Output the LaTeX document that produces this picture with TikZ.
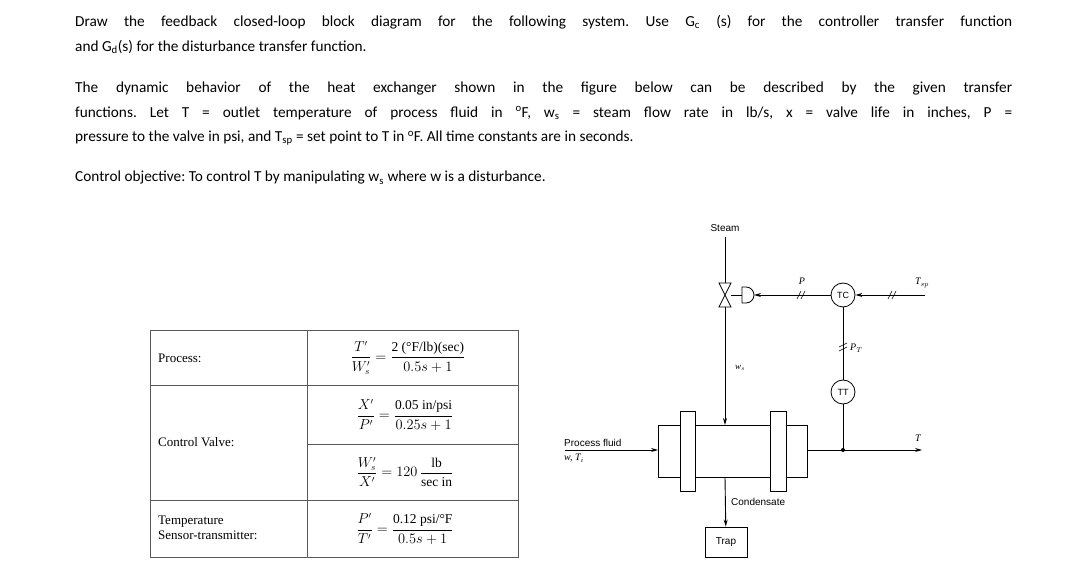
\documentclass[tikz,border=0pt]{standalone}
\usepackage{amsmath}
\usepackage{fontspec}
\setmainfont{Carlito}
\newfontfamily\tserif{Liberation Serif}
\newfontfamily\dsans{Liberation Sans}
\usetikzlibrary{arrows.meta}
\frenchspacing
\begin{document}
\begin{tikzpicture}[x=1pt,y=-1pt,
  txt/.style={anchor=west,inner sep=0pt,font=\fontsize{15.3}{17}\selectfont},
  tab/.style={anchor=west,inner sep=0pt,font=\tserif\fontsize{13}{15}\selectfont,align=left},
  eq/.style={inner sep=0pt,font=\tserif\fontsize{13.5}{15}\selectfont},
  dl/.style={inner sep=1pt,font=\dsans\fontsize{10}{12}\selectfont},
  pipe/.style={line width=0.9pt},
  flow/.style={pipe,-{Stealth[length=7pt,width=4pt]}},
  inst/.style={circle,draw,line width=0.8pt,minimum size=24pt,inner sep=0pt,font=\dsans\fontsize{9}{10}\selectfont}]
\useasboundingbox (0,0) rectangle (1080,585);
\fill[white] (0,0) rectangle (1080,585);
% text
\node[txt] (l1) at (75,22) {\makebox[937pt][s]{Draw the feedback closed-loop block diagram for the following system. Use G\textsubscript{c} (s) for the controller transfer function}};
\node[txt] (l2) at (75,47) {and G\textsubscript{d}(s) for the disturbance transfer function.};
\node[txt] (l3) at (75,89) {\makebox[937pt][s]{The dynamic behavior of the heat exchanger shown in the figure below can be described by the given transfer}};
\node[txt] (l4) at (75,113) {\makebox[937pt][s]{functions. Let T = outlet temperature of process fluid in \textsuperscript{o}F, w\textsubscript{s} = steam flow rate in lb/s, x = valve life in inches, P =}};
\node[txt] (l5) at (75,138) {pressure to the valve in psi, and T\textsubscript{sp} = set point to T in \textsuperscript{o}F. All time constants are in seconds.};
\node[txt] (l6) at (75,178) {Control objective: To control T by manipulating w\textsubscript{s} where w is a disturbance.};
% table
\draw[line width=0.9pt,gray!70!black] (150,330) rectangle (518,557);
\draw[line width=0.9pt,gray!70!black] (307,330) -- (307,557);
\draw[line width=0.9pt,gray!70!black] (150,385) -- (518,385) (307,444) -- (518,444) (150,500) -- (518,500);
\node[tab] (p) at (158,358) {Process:};
\node[tab] (cv) at (158,442) {Control Valve:};
\node[tab] (ts) at (158,528) {Temperature\\Sensor-transmitter:};
\node[eq] (e1) at (408,358) {$\dfrac{T'}{W_s'}=\dfrac{\text{2 (°F/lb)(sec)}}{0.5s+1}$};
\node[eq] (e2) at (405,415) {$\dfrac{X'}{P'}=\dfrac{\text{0.05 in/psi}}{0.25s+1}$};
\node[eq] (e3) at (405,472) {$\dfrac{W_s'}{X'}=120\,\dfrac{\text{lb}}{\text{sec in}}$};
\node[eq] (e4) at (405,529) {$\dfrac{P'}{T'}=\dfrac{\text{0.12 psi/°F}}{0.5s+1}$};
% heat exchanger
\node[dl] (steam) at (725,228) {Steam};
\draw[pipe] (725,237) -- (725,283);
\draw[line width=0.8pt] (719,283) -- (731,283) -- (719,307) -- (731,307) -- cycle;
\draw[line width=0.8pt] (731,295) -- (742,295);
\draw[line width=0.8pt] (742,287) -- (746,287) arc (-90:90:8) -- (742,303) -- cycle;
\node[inst] (tc) at (843,295) {TC};
\node[inst] (tt) at (843,392) {TT};
\draw[flow] (tc) -- (754,295);
\draw[line width=0.6pt] (797,299) -- (801,291) (801,299) -- (805,291);
\node[dl,font=\tserif\itshape\fontsize{10}{12}\selectfont] (plab) at (802,281) {P};
\coordinate (tspin) at (925,295);
\draw[flow] (tspin) -- (tc);
\draw[line width=0.6pt] (888,299) -- (892,291) (892,299) -- (896,291);
\node[dl,font=\tserif\itshape\fontsize{10}{12}\selectfont] (tsp) at (922,283) {T$_{sp}$};
\draw[pipe] (tc) -- (tt);
\draw[line width=0.6pt] (839,347) -- (847,343) (839,351) -- (847,347);
\node[dl,anchor=west,font=\tserif\itshape\fontsize{10}{12}\selectfont] (pt) at (849,348) {P$_T$};
\node[draw,line width=0.9pt,minimum width=149pt,minimum height=52pt,inner sep=0pt] (hx) at (732.5,451) {};
\draw[line width=0.9pt,fill=white] (680,411) rectangle (695,491);
\draw[line width=0.9pt,fill=white] (770,411) rectangle (786,491);
\draw[flow] (725,307) -- (725,425);
\node[dl,font=\tserif\itshape\fontsize{9}{11}\selectfont] (ws) at (740,368) {w$_s$};
\coordinate (pin) at (565,450);
\draw[flow] (pin) -- (658,450);
\node[dl,anchor=south west] (pf) at (563,448) {Process fluid};
\node[dl,anchor=north west,font=\tserif\itshape\fontsize{10}{12}\selectfont] (wti) at (563,453) {w, T$_i$};
\coordinate (tout) at (922,450);
\draw[flow] (807,450) -- (tout);
\fill (843,450) circle (2pt);
\draw[pipe] (tt) -- (843,450);
\node[dl,font=\tserif\itshape\fontsize{10}{12}\selectfont] (tl) at (918,438) {T};
\node[draw,line width=0.8pt,minimum width=42pt,minimum height=30pt,dl] (trap) at (726,542) {Trap};
\draw[flow] (725,477) -- (trap);
\node[dl,anchor=west] (cond) at (730,502) {Condensate};
\end{tikzpicture}
\end{document}
